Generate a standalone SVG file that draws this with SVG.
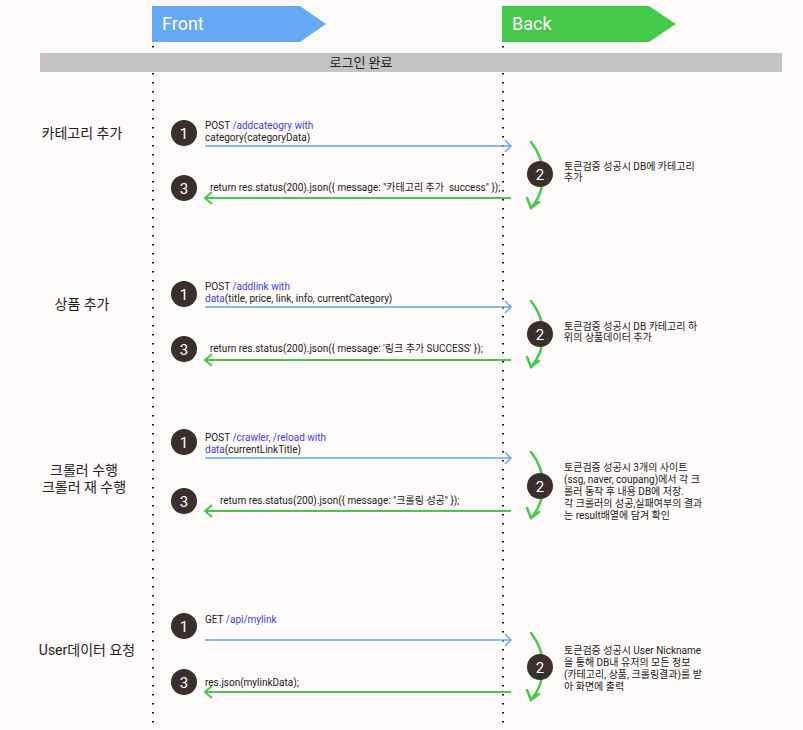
<svg xmlns="http://www.w3.org/2000/svg" width="803" height="730" viewBox="0 0 803 730">
<defs>
<style>
text{font-family:Roboto,"Noto Sans CJK KR",sans-serif;fill:#222;}
.lbl{font-size:14px;text-anchor:middle;}
.msg{font-size:10px;}
.blue{fill:#4040f5;}
.num{font-size:15px;fill:#fff;text-anchor:middle;}
.badge{fill:#3b2f2e;}
.life{stroke:#111;stroke-width:2;stroke-dasharray:1.5 7.5;fill:none;}
.req{stroke:#66a6f5;stroke-width:1.5;fill:none;}
.res{stroke:#47c94a;stroke-width:2;fill:none;}
.proc{stroke:#47c94a;stroke-width:2.5;fill:none;stroke-linecap:round;}
</style>
</defs>
<rect width="803" height="730" fill="#fffbfa"/>
<g id="lifelines">
<line class="life" x1="153" y1="46" x2="153" y2="730"/>
<line class="life" x1="503" y1="46" x2="503" y2="730"/>
</g>
<g id="front-header">
<polygon points="152,6 300,6 326,24 300,42 152,42" fill="#66aaf7"/>
<text x="162" y="30" style="font-size:18px;fill:#fff;">Front</text>
</g>
<g id="back-header">
<polygon points="502,6 649,6 676,24 649,42 502,42" fill="#45c94b"/>
<text x="512" y="30" style="font-size:18px;fill:#fff;">Back</text>
</g>
<g id="login-bar">
<rect x="40" y="53" width="742" height="19" fill="#c3c3c3"/>
<text x="361" y="67" style="font-size:13px;text-anchor:middle;">로그인 완료</text>
</g>

<g id="connectors">
<path class="req" d="M205 146H511M505 140L511 146L505 152"/>
<path class="res" d="M511 198H205M212 192L205 198L212 204"/>
<path class="proc" d="M531 142C547 162 547 190 531 208M527 198L531 208L539 202"/>

<path class="req" d="M205 307H511M505 301L511 307L505 313"/>
<path class="res" d="M511 360H205M212 354L205 360L212 366"/>
<path class="proc" d="M531 301C547 321 547 349 531 367M527 357L531 367L539 361"/>

<path class="req" d="M205 458H511M505 452L511 458L505 464"/>
<path class="res" d="M511 511H205M212 505L205 511L212 517"/>
<path class="proc" d="M531 452C547 472 547 500 531 518M527 508L531 518L539 512"/>

<path class="req" d="M205 640H511M505 634L511 640L505 646"/>
<path class="res" d="M511 692H205M212 686L205 692L212 698"/>
<path class="proc" d="M531 633C547 653 547 681 531 700M527 690L531 700L539 694"/>
</g>

<g id="row-category">
<text class="lbl" x="82" y="138">카테고리 추가</text>
<g id="cat-step1"><circle class="badge" cx="184" cy="133" r="13"/><text class="num" x="184" y="138.5">1</text></g>
<text class="msg" x="205" y="129">POST <tspan class="blue">/addcateogry with</tspan></text>
<text class="msg" x="205" y="141">category(categoryData)</text>
<g id="cat-step3"><circle class="badge" cx="184" cy="188" r="13"/><text class="num" x="184" y="193.5">3</text></g>
<text class="msg" x="210" y="191">return res.status(200).json({ message: "카테고리 추가&#160; success" });</text>
<g id="cat-step2"><circle class="badge" cx="540" cy="174" r="13"/><text class="num" x="540" y="179.5">2</text></g>
<text class="msg" x="564" y="170">토큰검증 성공시 DB에 카테고리</text>
<text class="msg" x="564" y="181">추가</text>
</g>

<g id="row-product">
<text class="lbl" x="82" y="309">상품 추가</text>
<g id="prod-step1"><circle class="badge" cx="184" cy="294" r="13"/><text class="num" x="184" y="299.5">1</text></g>
<text class="msg" x="205" y="290">POST <tspan class="blue">/addlink with</tspan></text>
<text class="msg" x="205" y="302"><tspan class="blue">data</tspan>(title, price, link, info, currentCategory)</text>
<g id="prod-step3"><circle class="badge" cx="184" cy="349" r="13"/><text class="num" x="184" y="354.5">3</text></g>
<text class="msg" x="210" y="352">return res.status(200).json({ message: '링크 추가 SUCCESS' });</text>
<g id="prod-step2"><circle class="badge" cx="540" cy="334" r="13"/><text class="num" x="540" y="339.5">2</text></g>
<text class="msg" x="564" y="330">토큰검증 성공시 DB 카테고리 하</text>
<text class="msg" x="564" y="341">위의 상품데이터 추가</text>
</g>

<g id="row-crawler">
<text class="lbl" x="84" y="475">크롤러 수행</text>
<text class="lbl" x="84" y="492">크롤러 재 수행</text>
<g id="crawl-step1"><circle class="badge" cx="184" cy="442" r="13"/><text class="num" x="184" y="447.5">1</text></g>
<text class="msg" x="205" y="441">POST <tspan class="blue">/crawler, /reload with</tspan></text>
<text class="msg" x="205" y="453"><tspan class="blue">data</tspan>(currentLinkTitle)</text>
<g id="crawl-step3"><circle class="badge" cx="184" cy="501" r="13"/><text class="num" x="184" y="506.5">3</text></g>
<text class="msg" x="220" y="504">return res.status(200).json({ message: "크롤링 성공" });</text>
<g id="crawl-step2"><circle class="badge" cx="540" cy="486" r="13"/><text class="num" x="540" y="491.5">2</text></g>
<text class="msg" x="564" y="471">토큰검증 성공시 3개의 사이트</text>
<text class="msg" x="564" y="483">(ssg, naver, coupang)에서 각 크</text>
<text class="msg" x="564" y="495">롤러 동작 후 내용 DB에 저장.</text>
<text class="msg" x="564" y="507">각 크롤러의 성공,실패여부의 결과</text>
<text class="msg" x="564" y="519">는 result배열에 담겨 확인</text>
</g>

<g id="row-user">
<text class="lbl" x="87" y="655">User데이터 요청</text>
<g id="user-step1"><circle class="badge" cx="184" cy="626" r="13"/><text class="num" x="184" y="631.5">1</text></g>
<text class="msg" x="205" y="623">GET <tspan class="blue">/api/mylink</tspan></text>
<g id="user-step3"><circle class="badge" cx="184" cy="682" r="13"/><text class="num" x="184" y="687.5">3</text></g>
<text class="msg" x="205" y="686">res.json(mylinkData);</text>
<g id="user-step2"><circle class="badge" cx="540" cy="667" r="13"/><text class="num" x="540" y="672.5">2</text></g>
<text class="msg" x="564" y="654">토큰검증 성공시 User Nickname</text>
<text class="msg" x="564" y="666">을 통해 DB내 유저의 모든 정보</text>
<text class="msg" x="564" y="678">(카테고리, 상품, 크롤링결과)를 받</text>
<text class="msg" x="564" y="690">아 화면에 출력</text>
</g>
</svg>
